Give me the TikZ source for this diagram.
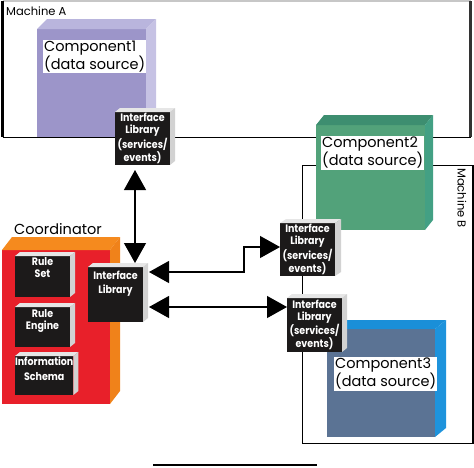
\documentclass[tikz,border=0pt]{standalone}
\usepackage{fontspec}
\setmainfont{Poppins}
\newfontfamily\ilfont{Poppins}[FakeStretch=0.88]
\usetikzlibrary{arrows.meta,calc}
\definecolor{cAfront}{HTML}{9C95C9}
\definecolor{cAtop}{HTML}{B9B5DD}
\definecolor{cAside}{HTML}{C6C2E4}
\definecolor{cBfront}{HTML}{52A27A}
\definecolor{cBtop}{HTML}{3D8E70}
\definecolor{cBside}{HTML}{43A084}
\definecolor{cCfront}{HTML}{5B7394}
\definecolor{cCtop}{HTML}{1A8FD8}
\definecolor{cCside}{HTML}{1E93DC}
\definecolor{coordfront}{HTML}{E8202A}
\definecolor{coordtop}{HTML}{F58A1E}
\definecolor{coordside}{HTML}{F0821A}
\definecolor{ilblack}{HTML}{1C1A1A}
\definecolor{iltop}{HTML}{E6E6E6}
\definecolor{ilside}{HTML}{D2D2D2}
\newcommand{\cubesides}[5]{%
  \fill[#4] (#1.north west) -- ++(#2,-#3) -- ($(#1.north east)+(#2,-#3)$) -- (#1.north east) -- cycle;
  \fill[#5] (#1.north east) -- ++(#2,-#3) -- ($(#1.south east)+(#2,-#3)$) -- (#1.south east) -- cycle;}
\tikzset{
  face/.style={rectangle, inner sep=0pt, outer sep=0pt, anchor=north west},
  ilbox/.style={face, fill=ilblack, text=white, align=center,
    font=\ilfont\bfseries\fontsize{10.8}{12}\selectfont},
  complabel/.style={fill=white, inner sep=1pt, anchor=north west, align=left,
    font=\fontsize{14.5}{18}\selectfont},
  dbl/.style={line width=1.2pt, {Triangle[width=22pt,length=20pt]}-{Triangle[width=22pt,length=20pt]}},
  machine/.style={line width=1pt}
}
\begin{document}
\begin{tikzpicture}[x=1pt,y=-1pt]
\useasboundingbox (0,0) rectangle (474,467);
% Machine A frame
\coordinate (mAtl) at (2.5,1);
\coordinate (mAtr) at (470.5,1);
\coordinate (mAbl) at (2.5,137);
\coordinate (mAbr) at (470.5,137);
\draw[line width=2.5pt, black!22] (mAtl) -- (mAtr);
\draw[machine] (mAbl) -- (mAbr);
\draw[line width=3pt] (mAtl) -- (mAbl);
\draw[line width=3pt, black!80] (mAtr) -- (mAbr);
\node[anchor=west, inner sep=0pt, font=\fontsize{11.5}{12}\selectfont] (mAlabel) at (6,11) {Machine A};
% Machine B frame
\node[rectangle, draw, line width=1pt, anchor=north west, minimum width=170pt, minimum height=278pt, inner sep=0pt] (mB) at (302,165) {};
\draw[line width=2.5pt] (mB.north east) -- (mB.south east);
\node[rotate=-90, inner sep=0pt, font=\fontsize{11.5}{12}\selectfont] (mBlabel) at (462,198) {Machine B};
% Component1
\node[face, fill=cAfront, minimum width=109pt, minimum height=108pt] (comp1) at (37,29) {};
\cubesides{comp1}{10}{10}{cAtop}{cAside}
\node[complabel] (comp1t) at (43,40) {Component1\\(data source)};
% Component2
\node[face, fill=cBfront, minimum width=109pt, minimum height=105pt] (comp2) at (316,125) {};
\cubesides{comp2}{8}{10}{cBtop}{cBside}
\node[complabel] (comp2t) at (321,136) {Component2\\(data source)};
% Component3
\node[face, fill=cCfront, minimum width=108pt, minimum height=108pt] (comp3) at (327,329) {};
\cubesides{comp3}{11}{9}{cCtop}{cCside}
\node[complabel] (comp3t) at (334,357) {Component3\\(data source)};
% Coordinator
\node[anchor=west, inner sep=0pt, font=\fontsize{14.5}{16}\selectfont] (coordlabel) at (14,229) {Coordinator};
\node[face, fill=coordfront, minimum width=108pt, minimum height=154pt] (coord) at (2,250) {};
\cubesides{coord}{10}{13}{coordtop}{coordside}
% inner boxes
\node[ilbox, minimum width=55pt, minimum height=41pt] (ruleset) at (15,256) {Rule\\Set\\[7pt]};
\cubesides{ruleset}{5}{4}{iltop}{ilside}
\node[ilbox, minimum width=55pt, minimum height=40pt] (ruleeng) at (15,307) {Rule\\Engine\\[4pt]};
\cubesides{ruleeng}{5}{4}{iltop}{ilside}
\node[ilbox, minimum width=55pt, minimum height=39pt] (infosch) at (15,356) {Information\\[3pt]Schema\\[2pt]};
\cubesides{infosch}{5}{4}{iltop}{ilside}
\node[ilbox, minimum width=55pt, minimum height=55pt] (cil) at (88,267) {Interface\\[2pt]Library\\[12pt]};
\cubesides{cil}{5}{4}{iltop}{ilside}
% Interface libraries
\node[ilbox, minimum width=55pt, minimum height=53pt] (il1) at (115,112) {Interface\\Library\\(services/\\events)};
\cubesides{il1}{5}{4}{iltop}{ilside}
\node[ilbox, minimum width=55pt, minimum height=53pt] (il2) at (280,223) {Interface\\Library\\(services/\\events)};
\cubesides{il2}{6}{4}{iltop}{ilside}
\node[ilbox, minimum width=55pt, minimum height=54pt] (il3) at (287,298) {Interface\\Library\\(services/\\events)};
\cubesides{il3}{5}{4}{iltop}{ilside}
% connectors
\draw[dbl] ($(il1.south west)+(20,5)$) -- ($(cil.north west)+(47,-4)$);
\draw[dbl] ($(il2.north west)+(0,24)$) -- ++(-36,0) |- ($(cil.north east)+(6,5)$);
\draw[dbl] ($(cil.north east)+(6,40)$) -- ($(il3.north west)+(0,9)$);
% bottom rule
\coordinate (ruleL) at (153,465);
\coordinate (ruleR) at (317,465);
\draw[line width=1.6pt] (ruleL) -- (ruleR);
\end{tikzpicture}
\end{document}
